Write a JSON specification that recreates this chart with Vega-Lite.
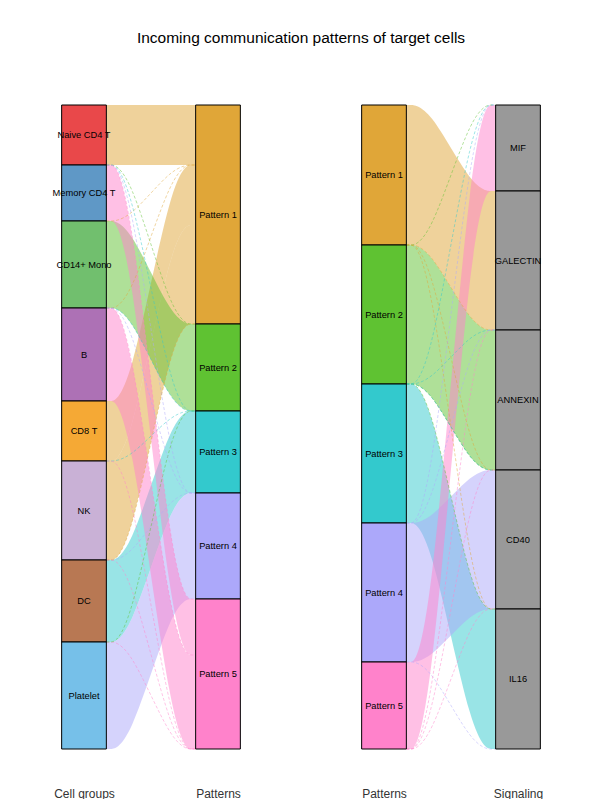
{
  "$schema": "https://vega.github.io/schema/vega-lite/v6.json",
  "background": "white",
  "padding": {"left": 17, "right": 5, "top": 31, "bottom": 0},
  "title": {"text": "Incoming communication patterns of target cells", "font": "Liberation Sans", "fontSize": 15.5, "fontWeight": "normal", "color": "black", "anchor": "middle", "offset": 57},
  "spacing": 32,
  "config": {"view": {"stroke": null}, "font": "Liberation Sans", "scale": {"continuousPadding": 0}},
  "datasets": {
    "flowsL": [
      {"flow": "Naive CD4 T-P1", "pattern": "Pattern 1", "x": 1.1667, "top": 0, "bottom": 60},
      {"flow": "Naive CD4 T-P1", "pattern": "Pattern 1", "x": 1.3333, "top": 0, "bottom": 60},
      {"flow": "Naive CD4 T-P1", "pattern": "Pattern 1", "x": 1.6667, "top": 0, "bottom": 60},
      {"flow": "Naive CD4 T-P1", "pattern": "Pattern 1", "x": 1.8333, "top": 0, "bottom": 60},
      {"flow": "CD8 T-P1", "pattern": "Pattern 1", "x": 1.1667, "top": 296, "bottom": 356},
      {"flow": "CD8 T-P1", "pattern": "Pattern 1", "x": 1.3333, "top": 296, "bottom": 356},
      {"flow": "CD8 T-P1", "pattern": "Pattern 1", "x": 1.6667, "top": 60, "bottom": 120},
      {"flow": "CD8 T-P1", "pattern": "Pattern 1", "x": 1.8333, "top": 60, "bottom": 120},
      {"flow": "NK-P1", "pattern": "Pattern 1", "x": 1.1667, "top": 356, "bottom": 455},
      {"flow": "NK-P1", "pattern": "Pattern 1", "x": 1.3333, "top": 356, "bottom": 455},
      {"flow": "NK-P1", "pattern": "Pattern 1", "x": 1.6667, "top": 120, "bottom": 219},
      {"flow": "NK-P1", "pattern": "Pattern 1", "x": 1.8333, "top": 120, "bottom": 219},
      {"flow": "CD14+ Mono-P2", "pattern": "Pattern 2", "x": 1.1667, "top": 116, "bottom": 203},
      {"flow": "CD14+ Mono-P2", "pattern": "Pattern 2", "x": 1.3333, "top": 116, "bottom": 203},
      {"flow": "CD14+ Mono-P2", "pattern": "Pattern 2", "x": 1.6667, "top": 219, "bottom": 306},
      {"flow": "CD14+ Mono-P2", "pattern": "Pattern 2", "x": 1.8333, "top": 219, "bottom": 306},
      {"flow": "DC-P3", "pattern": "Pattern 3", "x": 1.1667, "top": 455, "bottom": 537},
      {"flow": "DC-P3", "pattern": "Pattern 3", "x": 1.3333, "top": 455, "bottom": 537},
      {"flow": "DC-P3", "pattern": "Pattern 3", "x": 1.6667, "top": 306, "bottom": 388},
      {"flow": "DC-P3", "pattern": "Pattern 3", "x": 1.8333, "top": 306, "bottom": 388},
      {"flow": "Platelet-P4", "pattern": "Pattern 4", "x": 1.1667, "top": 537, "bottom": 644},
      {"flow": "Platelet-P4", "pattern": "Pattern 4", "x": 1.3333, "top": 537, "bottom": 644},
      {"flow": "Platelet-P4", "pattern": "Pattern 4", "x": 1.6667, "top": 388, "bottom": 494},
      {"flow": "Platelet-P4", "pattern": "Pattern 4", "x": 1.8333, "top": 388, "bottom": 494},
      {"flow": "Memory CD4 T-P5", "pattern": "Pattern 5", "x": 1.1667, "top": 60, "bottom": 116},
      {"flow": "Memory CD4 T-P5", "pattern": "Pattern 5", "x": 1.3333, "top": 60, "bottom": 116},
      {"flow": "Memory CD4 T-P5", "pattern": "Pattern 5", "x": 1.6667, "top": 494, "bottom": 550},
      {"flow": "Memory CD4 T-P5", "pattern": "Pattern 5", "x": 1.8333, "top": 494, "bottom": 550},
      {"flow": "B-P5", "pattern": "Pattern 5", "x": 1.1667, "top": 203, "bottom": 296},
      {"flow": "B-P5", "pattern": "Pattern 5", "x": 1.3333, "top": 203, "bottom": 296},
      {"flow": "B-P5", "pattern": "Pattern 5", "x": 1.6667, "top": 550, "bottom": 644},
      {"flow": "B-P5", "pattern": "Pattern 5", "x": 1.8333, "top": 550, "bottom": 644}
    ],
    "flowsR": [
      {"flow": "P1-GALECTIN", "pattern": "Pattern 1", "x": 1.1667, "top": 0, "bottom": 140},
      {"flow": "P1-GALECTIN", "pattern": "Pattern 1", "x": 1.3333, "top": 0, "bottom": 140},
      {"flow": "P1-GALECTIN", "pattern": "Pattern 1", "x": 1.6667, "top": 86, "bottom": 225},
      {"flow": "P1-GALECTIN", "pattern": "Pattern 1", "x": 1.8333, "top": 86, "bottom": 225},
      {"flow": "P2-ANNEXIN", "pattern": "Pattern 2", "x": 1.1667, "top": 140, "bottom": 279},
      {"flow": "P2-ANNEXIN", "pattern": "Pattern 2", "x": 1.3333, "top": 140, "bottom": 279},
      {"flow": "P2-ANNEXIN", "pattern": "Pattern 2", "x": 1.6667, "top": 225, "bottom": 365},
      {"flow": "P2-ANNEXIN", "pattern": "Pattern 2", "x": 1.8333, "top": 225, "bottom": 365},
      {"flow": "P3-IL16", "pattern": "Pattern 3", "x": 1.1667, "top": 279, "bottom": 418},
      {"flow": "P3-IL16", "pattern": "Pattern 3", "x": 1.3333, "top": 279, "bottom": 418},
      {"flow": "P3-IL16", "pattern": "Pattern 3", "x": 1.6667, "top": 504, "bottom": 644},
      {"flow": "P3-IL16", "pattern": "Pattern 3", "x": 1.8333, "top": 504, "bottom": 644},
      {"flow": "P4-CD40", "pattern": "Pattern 4", "x": 1.1667, "top": 418, "bottom": 557},
      {"flow": "P4-CD40", "pattern": "Pattern 4", "x": 1.3333, "top": 418, "bottom": 557},
      {"flow": "P4-CD40", "pattern": "Pattern 4", "x": 1.6667, "top": 365, "bottom": 504},
      {"flow": "P4-CD40", "pattern": "Pattern 4", "x": 1.8333, "top": 365, "bottom": 504},
      {"flow": "P5-MIF", "pattern": "Pattern 5", "x": 1.1667, "top": 557, "bottom": 644},
      {"flow": "P5-MIF", "pattern": "Pattern 5", "x": 1.3333, "top": 557, "bottom": 644},
      {"flow": "P5-MIF", "pattern": "Pattern 5", "x": 1.6667, "top": 0, "bottom": 86},
      {"flow": "P5-MIF", "pattern": "Pattern 5", "x": 1.8333, "top": 0, "bottom": 86}
    ],
    "linesL": [
      {"flow": "a", "pattern": "Pattern 2", "x": 1.1667, "top": 60}, {"flow": "a", "pattern": "Pattern 2", "x": 1.3333, "top": 60}, {"flow": "a", "pattern": "Pattern 2", "x": 1.6667, "top": 219}, {"flow": "a", "pattern": "Pattern 2", "x": 1.8333, "top": 219},
      {"flow": "b", "pattern": "Pattern 3", "x": 1.1667, "top": 60}, {"flow": "b", "pattern": "Pattern 3", "x": 1.3333, "top": 60}, {"flow": "b", "pattern": "Pattern 3", "x": 1.6667, "top": 306}, {"flow": "b", "pattern": "Pattern 3", "x": 1.8333, "top": 306},
      {"flow": "c", "pattern": "Pattern 4", "x": 1.1667, "top": 60}, {"flow": "c", "pattern": "Pattern 4", "x": 1.3333, "top": 60}, {"flow": "c", "pattern": "Pattern 4", "x": 1.6667, "top": 388}, {"flow": "c", "pattern": "Pattern 4", "x": 1.8333, "top": 388},
      {"flow": "d", "pattern": "Pattern 1", "x": 1.1667, "top": 116}, {"flow": "d", "pattern": "Pattern 1", "x": 1.3333, "top": 116}, {"flow": "d", "pattern": "Pattern 1", "x": 1.6667, "top": 60}, {"flow": "d", "pattern": "Pattern 1", "x": 1.8333, "top": 60},
      {"flow": "e", "pattern": "Pattern 1", "x": 1.1667, "top": 203}, {"flow": "e", "pattern": "Pattern 1", "x": 1.3333, "top": 203}, {"flow": "e", "pattern": "Pattern 1", "x": 1.6667, "top": 60}, {"flow": "e", "pattern": "Pattern 1", "x": 1.8333, "top": 60},
      {"flow": "f", "pattern": "Pattern 3", "x": 1.1667, "top": 203}, {"flow": "f", "pattern": "Pattern 3", "x": 1.3333, "top": 203}, {"flow": "f", "pattern": "Pattern 3", "x": 1.6667, "top": 306}, {"flow": "f", "pattern": "Pattern 3", "x": 1.8333, "top": 306},
      {"flow": "g", "pattern": "Pattern 3", "x": 1.1667, "top": 356}, {"flow": "g", "pattern": "Pattern 3", "x": 1.3333, "top": 356}, {"flow": "g", "pattern": "Pattern 3", "x": 1.6667, "top": 306}, {"flow": "g", "pattern": "Pattern 3", "x": 1.8333, "top": 306},
      {"flow": "h", "pattern": "Pattern 4", "x": 1.1667, "top": 455}, {"flow": "h", "pattern": "Pattern 4", "x": 1.3333, "top": 455}, {"flow": "h", "pattern": "Pattern 4", "x": 1.6667, "top": 388}, {"flow": "h", "pattern": "Pattern 4", "x": 1.8333, "top": 388},
      {"flow": "i", "pattern": "Pattern 5", "x": 1.1667, "top": 455}, {"flow": "i", "pattern": "Pattern 5", "x": 1.3333, "top": 455}, {"flow": "i", "pattern": "Pattern 5", "x": 1.6667, "top": 644}, {"flow": "i", "pattern": "Pattern 5", "x": 1.8333, "top": 644},
      {"flow": "j", "pattern": "Pattern 5", "x": 1.1667, "top": 537}, {"flow": "j", "pattern": "Pattern 5", "x": 1.3333, "top": 537}, {"flow": "j", "pattern": "Pattern 5", "x": 1.6667, "top": 644}, {"flow": "j", "pattern": "Pattern 5", "x": 1.8333, "top": 644},
      {"flow": "k", "pattern": "Pattern 1", "x": 1.1667, "top": 455}, {"flow": "k", "pattern": "Pattern 1", "x": 1.3333, "top": 455}, {"flow": "k", "pattern": "Pattern 1", "x": 1.6667, "top": 219}, {"flow": "k", "pattern": "Pattern 1", "x": 1.8333, "top": 219},
      {"flow": "l", "pattern": "Pattern 2", "x": 1.1667, "top": 537}, {"flow": "l", "pattern": "Pattern 2", "x": 1.3333, "top": 537}, {"flow": "l", "pattern": "Pattern 2", "x": 1.6667, "top": 306}, {"flow": "l", "pattern": "Pattern 2", "x": 1.8333, "top": 306},
      {"flow": "m", "pattern": "Pattern 5", "x": 1.1667, "top": 60}, {"flow": "m", "pattern": "Pattern 5", "x": 1.3333, "top": 60}, {"flow": "m", "pattern": "Pattern 5", "x": 1.6667, "top": 494}, {"flow": "m", "pattern": "Pattern 5", "x": 1.8333, "top": 494},
      {"flow": "n", "pattern": "Pattern 5", "x": 1.1667, "top": 356}, {"flow": "n", "pattern": "Pattern 5", "x": 1.3333, "top": 356}, {"flow": "n", "pattern": "Pattern 5", "x": 1.6667, "top": 644}, {"flow": "n", "pattern": "Pattern 5", "x": 1.8333, "top": 644},
      {"flow": "o", "pattern": "Pattern 5", "x": 1.1667, "top": 203}, {"flow": "o", "pattern": "Pattern 5", "x": 1.3333, "top": 203}, {"flow": "o", "pattern": "Pattern 5", "x": 1.6667, "top": 550}, {"flow": "o", "pattern": "Pattern 5", "x": 1.8333, "top": 550},
      {"flow": "q", "pattern": "Pattern 4", "x": 1.1667, "top": 203}, {"flow": "q", "pattern": "Pattern 4", "x": 1.3333, "top": 203}, {"flow": "q", "pattern": "Pattern 4", "x": 1.6667, "top": 388}, {"flow": "q", "pattern": "Pattern 4", "x": 1.8333, "top": 388}
    ],
    "linesR": [
      {"flow": "a", "pattern": "Pattern 1", "x": 1.1667, "top": 140}, {"flow": "a", "pattern": "Pattern 1", "x": 1.3333, "top": 140}, {"flow": "a", "pattern": "Pattern 1", "x": 1.6667, "top": 225}, {"flow": "a", "pattern": "Pattern 1", "x": 1.8333, "top": 225},
      {"flow": "b", "pattern": "Pattern 1", "x": 1.1667, "top": 140}, {"flow": "b", "pattern": "Pattern 1", "x": 1.3333, "top": 140}, {"flow": "b", "pattern": "Pattern 1", "x": 1.6667, "top": 365}, {"flow": "b", "pattern": "Pattern 1", "x": 1.8333, "top": 365},
      {"flow": "c", "pattern": "Pattern 1", "x": 1.1667, "top": 140}, {"flow": "c", "pattern": "Pattern 1", "x": 1.3333, "top": 140}, {"flow": "c", "pattern": "Pattern 1", "x": 1.6667, "top": 504}, {"flow": "c", "pattern": "Pattern 1", "x": 1.8333, "top": 504},
      {"flow": "d", "pattern": "Pattern 2", "x": 1.1667, "top": 140}, {"flow": "d", "pattern": "Pattern 2", "x": 1.3333, "top": 140}, {"flow": "d", "pattern": "Pattern 2", "x": 1.6667, "top": 0}, {"flow": "d", "pattern": "Pattern 2", "x": 1.8333, "top": 0},
      {"flow": "e", "pattern": "Pattern 2", "x": 1.1667, "top": 279}, {"flow": "e", "pattern": "Pattern 2", "x": 1.3333, "top": 279}, {"flow": "e", "pattern": "Pattern 2", "x": 1.6667, "top": 365}, {"flow": "e", "pattern": "Pattern 2", "x": 1.8333, "top": 365},
      {"flow": "f", "pattern": "Pattern 2", "x": 1.1667, "top": 279}, {"flow": "f", "pattern": "Pattern 2", "x": 1.3333, "top": 279}, {"flow": "f", "pattern": "Pattern 2", "x": 1.6667, "top": 504}, {"flow": "f", "pattern": "Pattern 2", "x": 1.8333, "top": 504},
      {"flow": "g", "pattern": "Pattern 3", "x": 1.1667, "top": 279}, {"flow": "g", "pattern": "Pattern 3", "x": 1.3333, "top": 279}, {"flow": "g", "pattern": "Pattern 3", "x": 1.6667, "top": 0}, {"flow": "g", "pattern": "Pattern 3", "x": 1.8333, "top": 0},
      {"flow": "h", "pattern": "Pattern 3", "x": 1.1667, "top": 279}, {"flow": "h", "pattern": "Pattern 3", "x": 1.3333, "top": 279}, {"flow": "h", "pattern": "Pattern 3", "x": 1.6667, "top": 225}, {"flow": "h", "pattern": "Pattern 3", "x": 1.8333, "top": 225},
      {"flow": "i", "pattern": "Pattern 3", "x": 1.1667, "top": 279}, {"flow": "i", "pattern": "Pattern 3", "x": 1.3333, "top": 279}, {"flow": "i", "pattern": "Pattern 3", "x": 1.6667, "top": 365}, {"flow": "i", "pattern": "Pattern 3", "x": 1.8333, "top": 365},
      {"flow": "j", "pattern": "Pattern 4", "x": 1.1667, "top": 418}, {"flow": "j", "pattern": "Pattern 4", "x": 1.3333, "top": 418}, {"flow": "j", "pattern": "Pattern 4", "x": 1.6667, "top": 0}, {"flow": "j", "pattern": "Pattern 4", "x": 1.8333, "top": 0},
      {"flow": "k", "pattern": "Pattern 4", "x": 1.1667, "top": 418}, {"flow": "k", "pattern": "Pattern 4", "x": 1.3333, "top": 418}, {"flow": "k", "pattern": "Pattern 4", "x": 1.6667, "top": 225}, {"flow": "k", "pattern": "Pattern 4", "x": 1.8333, "top": 225},
      {"flow": "l", "pattern": "Pattern 4", "x": 1.1667, "top": 557}, {"flow": "l", "pattern": "Pattern 4", "x": 1.3333, "top": 557}, {"flow": "l", "pattern": "Pattern 4", "x": 1.6667, "top": 644}, {"flow": "l", "pattern": "Pattern 4", "x": 1.8333, "top": 644},
      {"flow": "m", "pattern": "Pattern 5", "x": 1.1667, "top": 644}, {"flow": "m", "pattern": "Pattern 5", "x": 1.3333, "top": 644}, {"flow": "m", "pattern": "Pattern 5", "x": 1.6667, "top": 225}, {"flow": "m", "pattern": "Pattern 5", "x": 1.8333, "top": 225},
      {"flow": "n", "pattern": "Pattern 5", "x": 1.1667, "top": 644}, {"flow": "n", "pattern": "Pattern 5", "x": 1.3333, "top": 644}, {"flow": "n", "pattern": "Pattern 5", "x": 1.6667, "top": 365}, {"flow": "n", "pattern": "Pattern 5", "x": 1.8333, "top": 365},
      {"flow": "o", "pattern": "Pattern 5", "x": 1.1667, "top": 644}, {"flow": "o", "pattern": "Pattern 5", "x": 1.3333, "top": 644}, {"flow": "o", "pattern": "Pattern 5", "x": 1.6667, "top": 504}, {"flow": "o", "pattern": "Pattern 5", "x": 1.8333, "top": 504}
    ],
    "strataL": [
      {"name": "Naive CD4 T", "x": 1, "top": 0, "bottom": 60},
      {"name": "Memory CD4 T", "x": 1, "top": 60, "bottom": 116},
      {"name": "CD14+ Mono", "x": 1, "top": 116, "bottom": 203},
      {"name": "B", "x": 1, "top": 203, "bottom": 296},
      {"name": "CD8 T", "x": 1, "top": 296, "bottom": 356},
      {"name": "NK", "x": 1, "top": 356, "bottom": 455},
      {"name": "DC", "x": 1, "top": 455, "bottom": 537},
      {"name": "Platelet", "x": 1, "top": 537, "bottom": 644},
      {"name": "Pattern 1", "x": 2, "top": 0, "bottom": 219},
      {"name": "Pattern 2", "x": 2, "top": 219, "bottom": 306},
      {"name": "Pattern 3", "x": 2, "top": 306, "bottom": 388},
      {"name": "Pattern 4", "x": 2, "top": 388, "bottom": 494},
      {"name": "Pattern 5", "x": 2, "top": 494, "bottom": 644}
    ],
    "strataR": [
      {"name": "Pattern 1", "x": 1, "top": 0, "bottom": 140},
      {"name": "Pattern 2", "x": 1, "top": 140, "bottom": 279},
      {"name": "Pattern 3", "x": 1, "top": 279, "bottom": 418},
      {"name": "Pattern 4", "x": 1, "top": 418, "bottom": 557},
      {"name": "Pattern 5", "x": 1, "top": 557, "bottom": 644},
      {"name": "MIF", "x": 2, "top": 0, "bottom": 86},
      {"name": "GALECTIN", "x": 2, "top": 86, "bottom": 225},
      {"name": "ANNEXIN", "x": 2, "top": 225, "bottom": 365},
      {"name": "CD40", "x": 2, "top": 365, "bottom": 504},
      {"name": "IL16", "x": 2, "top": 504, "bottom": 644}
    ]
  },
  "hconcat": [
    {
      "width": 268,
      "height": 644,
      "encoding": {
        "x": {"field": "x", "type": "quantitative", "scale": {"domain": [0.5, 2.5], "nice": false, "zero": false, "padding": 0},
          "axis": {"values": [1, 2], "labelExpr": "datum.value == 1 ? 'Cell groups' : 'Patterns'", "domain": false, "ticks": false, "tickSize": 0, "grid": false, "title": null, "labelFontSize": 12, "labelColor": "#333333", "labelPadding": 39, "labelFont": "Liberation Sans"}}
      },
      "layer": [
        {
          "data": {"name": "flowsL"},
          "mark": {"type": "area", "interpolate": "basis", "opacity": 0.5},
          "encoding": {
            "y": {"field": "top", "type": "quantitative", "stack": null, "scale": {"domain": [0, 644], "reverse": true, "nice": false, "zero": false, "padding": 0}, "axis": null},
            "y2": {"field": "bottom"},
            "color": {"field": "pattern", "type": "nominal", "legend": null,
              "scale": {"domain": ["Naive CD4 T", "Memory CD4 T", "CD14+ Mono", "B", "CD8 T", "NK", "DC", "Platelet", "Pattern 1", "Pattern 2", "Pattern 3", "Pattern 4", "Pattern 5", "MIF", "GALECTIN", "ANNEXIN", "CD40", "IL16"],
                "range": ["#E9484A", "#5F98C6", "#71BF6E", "#AD71B5", "#F5A935", "#C9B1D6", "#B87853", "#76C0E9", "#E0A638", "#5FC232", "#33C9CD", "#ACA8FA", "#FF82CB", "#999999", "#999999", "#999999", "#999999", "#999999"]}},
            "detail": {"field": "flow"}
          }
        },
        {
          "data": {"name": "linesL"},
          "mark": {"type": "line", "interpolate": "basis", "strokeWidth": 0.6, "strokeDash": [3, 2], "opacity": 0.8},
          "encoding": {
            "y": {"field": "top", "type": "quantitative", "stack": null, "scale": {"domain": [0, 644], "reverse": true, "nice": false, "zero": false, "padding": 0}, "axis": null},
            "color": {"field": "pattern", "type": "nominal", "legend": null,
              "scale": {"domain": ["Naive CD4 T", "Memory CD4 T", "CD14+ Mono", "B", "CD8 T", "NK", "DC", "Platelet", "Pattern 1", "Pattern 2", "Pattern 3", "Pattern 4", "Pattern 5", "MIF", "GALECTIN", "ANNEXIN", "CD40", "IL16"],
                "range": ["#E9484A", "#5F98C6", "#71BF6E", "#AD71B5", "#F5A935", "#C9B1D6", "#B87853", "#76C0E9", "#E0A638", "#5FC232", "#33C9CD", "#ACA8FA", "#FF82CB", "#999999", "#999999", "#999999", "#999999", "#999999"]}},
            "detail": {"field": "flow"}
          }
        },
        {
          "data": {"name": "strataL"},
          "mark": {"type": "bar", "width": 44.7, "stroke": "black", "strokeWidth": 1, "opacity": 1},
          "encoding": {
            "y": {"field": "top", "type": "quantitative", "stack": null, "scale": {"domain": [0, 644], "reverse": true, "nice": false, "zero": false, "padding": 0}, "axis": null},
            "y2": {"field": "bottom"},
            "color": {"field": "name", "type": "nominal", "legend": null,
              "scale": {"domain": ["Naive CD4 T", "Memory CD4 T", "CD14+ Mono", "B", "CD8 T", "NK", "DC", "Platelet", "Pattern 1", "Pattern 2", "Pattern 3", "Pattern 4", "Pattern 5", "MIF", "GALECTIN", "ANNEXIN", "CD40", "IL16"],
                "range": ["#E9484A", "#5F98C6", "#71BF6E", "#AD71B5", "#F5A935", "#C9B1D6", "#B87853", "#76C0E9", "#E0A638", "#5FC232", "#33C9CD", "#ACA8FA", "#FF82CB", "#999999", "#999999", "#999999", "#999999", "#999999"]}}
          }
        },
        {
          "data": {"name": "strataL"},
          "transform": [{"calculate": "(datum.top + datum.bottom) / 2", "as": "mid"}],
          "mark": {"type": "text", "fontSize": 9.3, "font": "Liberation Sans", "color": "black"},
          "encoding": {
            "y": {"field": "mid", "type": "quantitative", "scale": {"domain": [0, 644], "reverse": true, "nice": false, "zero": false, "padding": 0}, "axis": null},
            "text": {"field": "name"}
          }
        }
      ]
    },
    {
      "width": 268,
      "height": 644,
      "encoding": {
        "x": {"field": "x", "type": "quantitative", "scale": {"domain": [0.5, 2.5], "nice": false, "zero": false, "padding": 0},
          "axis": {"values": [1, 2], "labelExpr": "datum.value == 1 ? 'Patterns' : 'Signaling'", "domain": false, "ticks": false, "tickSize": 0, "grid": false, "title": null, "labelFontSize": 12, "labelColor": "#333333", "labelPadding": 39, "labelFont": "Liberation Sans"}}
      },
      "layer": [
        {
          "data": {"name": "flowsR"},
          "mark": {"type": "area", "interpolate": "basis", "opacity": 0.5},
          "encoding": {
            "y": {"field": "top", "type": "quantitative", "stack": null, "scale": {"domain": [0, 644], "reverse": true, "nice": false, "zero": false, "padding": 0}, "axis": null},
            "y2": {"field": "bottom"},
            "color": {"field": "pattern", "type": "nominal", "legend": null,
              "scale": {"domain": ["Naive CD4 T", "Memory CD4 T", "CD14+ Mono", "B", "CD8 T", "NK", "DC", "Platelet", "Pattern 1", "Pattern 2", "Pattern 3", "Pattern 4", "Pattern 5", "MIF", "GALECTIN", "ANNEXIN", "CD40", "IL16"],
                "range": ["#E9484A", "#5F98C6", "#71BF6E", "#AD71B5", "#F5A935", "#C9B1D6", "#B87853", "#76C0E9", "#E0A638", "#5FC232", "#33C9CD", "#ACA8FA", "#FF82CB", "#999999", "#999999", "#999999", "#999999", "#999999"]}},
            "detail": {"field": "flow"}
          }
        },
        {
          "data": {"name": "linesR"},
          "mark": {"type": "line", "interpolate": "basis", "strokeWidth": 0.6, "strokeDash": [3, 2], "opacity": 0.8},
          "encoding": {
            "y": {"field": "top", "type": "quantitative", "stack": null, "scale": {"domain": [0, 644], "reverse": true, "nice": false, "zero": false, "padding": 0}, "axis": null},
            "color": {"field": "pattern", "type": "nominal", "legend": null,
              "scale": {"domain": ["Naive CD4 T", "Memory CD4 T", "CD14+ Mono", "B", "CD8 T", "NK", "DC", "Platelet", "Pattern 1", "Pattern 2", "Pattern 3", "Pattern 4", "Pattern 5", "MIF", "GALECTIN", "ANNEXIN", "CD40", "IL16"],
                "range": ["#E9484A", "#5F98C6", "#71BF6E", "#AD71B5", "#F5A935", "#C9B1D6", "#B87853", "#76C0E9", "#E0A638", "#5FC232", "#33C9CD", "#ACA8FA", "#FF82CB", "#999999", "#999999", "#999999", "#999999", "#999999"]}},
            "detail": {"field": "flow"}
          }
        },
        {
          "data": {"name": "strataR"},
          "mark": {"type": "bar", "width": 44.7, "stroke": "black", "strokeWidth": 1, "opacity": 1},
          "encoding": {
            "y": {"field": "top", "type": "quantitative", "stack": null, "scale": {"domain": [0, 644], "reverse": true, "nice": false, "zero": false, "padding": 0}, "axis": null},
            "y2": {"field": "bottom"},
            "color": {"field": "name", "type": "nominal", "legend": null,
              "scale": {"domain": ["Naive CD4 T", "Memory CD4 T", "CD14+ Mono", "B", "CD8 T", "NK", "DC", "Platelet", "Pattern 1", "Pattern 2", "Pattern 3", "Pattern 4", "Pattern 5", "MIF", "GALECTIN", "ANNEXIN", "CD40", "IL16"],
                "range": ["#E9484A", "#5F98C6", "#71BF6E", "#AD71B5", "#F5A935", "#C9B1D6", "#B87853", "#76C0E9", "#E0A638", "#5FC232", "#33C9CD", "#ACA8FA", "#FF82CB", "#999999", "#999999", "#999999", "#999999", "#999999"]}}
          }
        },
        {
          "data": {"name": "strataR"},
          "transform": [{"calculate": "(datum.top + datum.bottom) / 2", "as": "mid"}],
          "mark": {"type": "text", "fontSize": 9.3, "font": "Liberation Sans", "color": "black"},
          "encoding": {
            "y": {"field": "mid", "type": "quantitative", "scale": {"domain": [0, 644], "reverse": true, "nice": false, "zero": false, "padding": 0}, "axis": null},
            "text": {"field": "name"}
          }
        }
      ]
    }
  ]
}
